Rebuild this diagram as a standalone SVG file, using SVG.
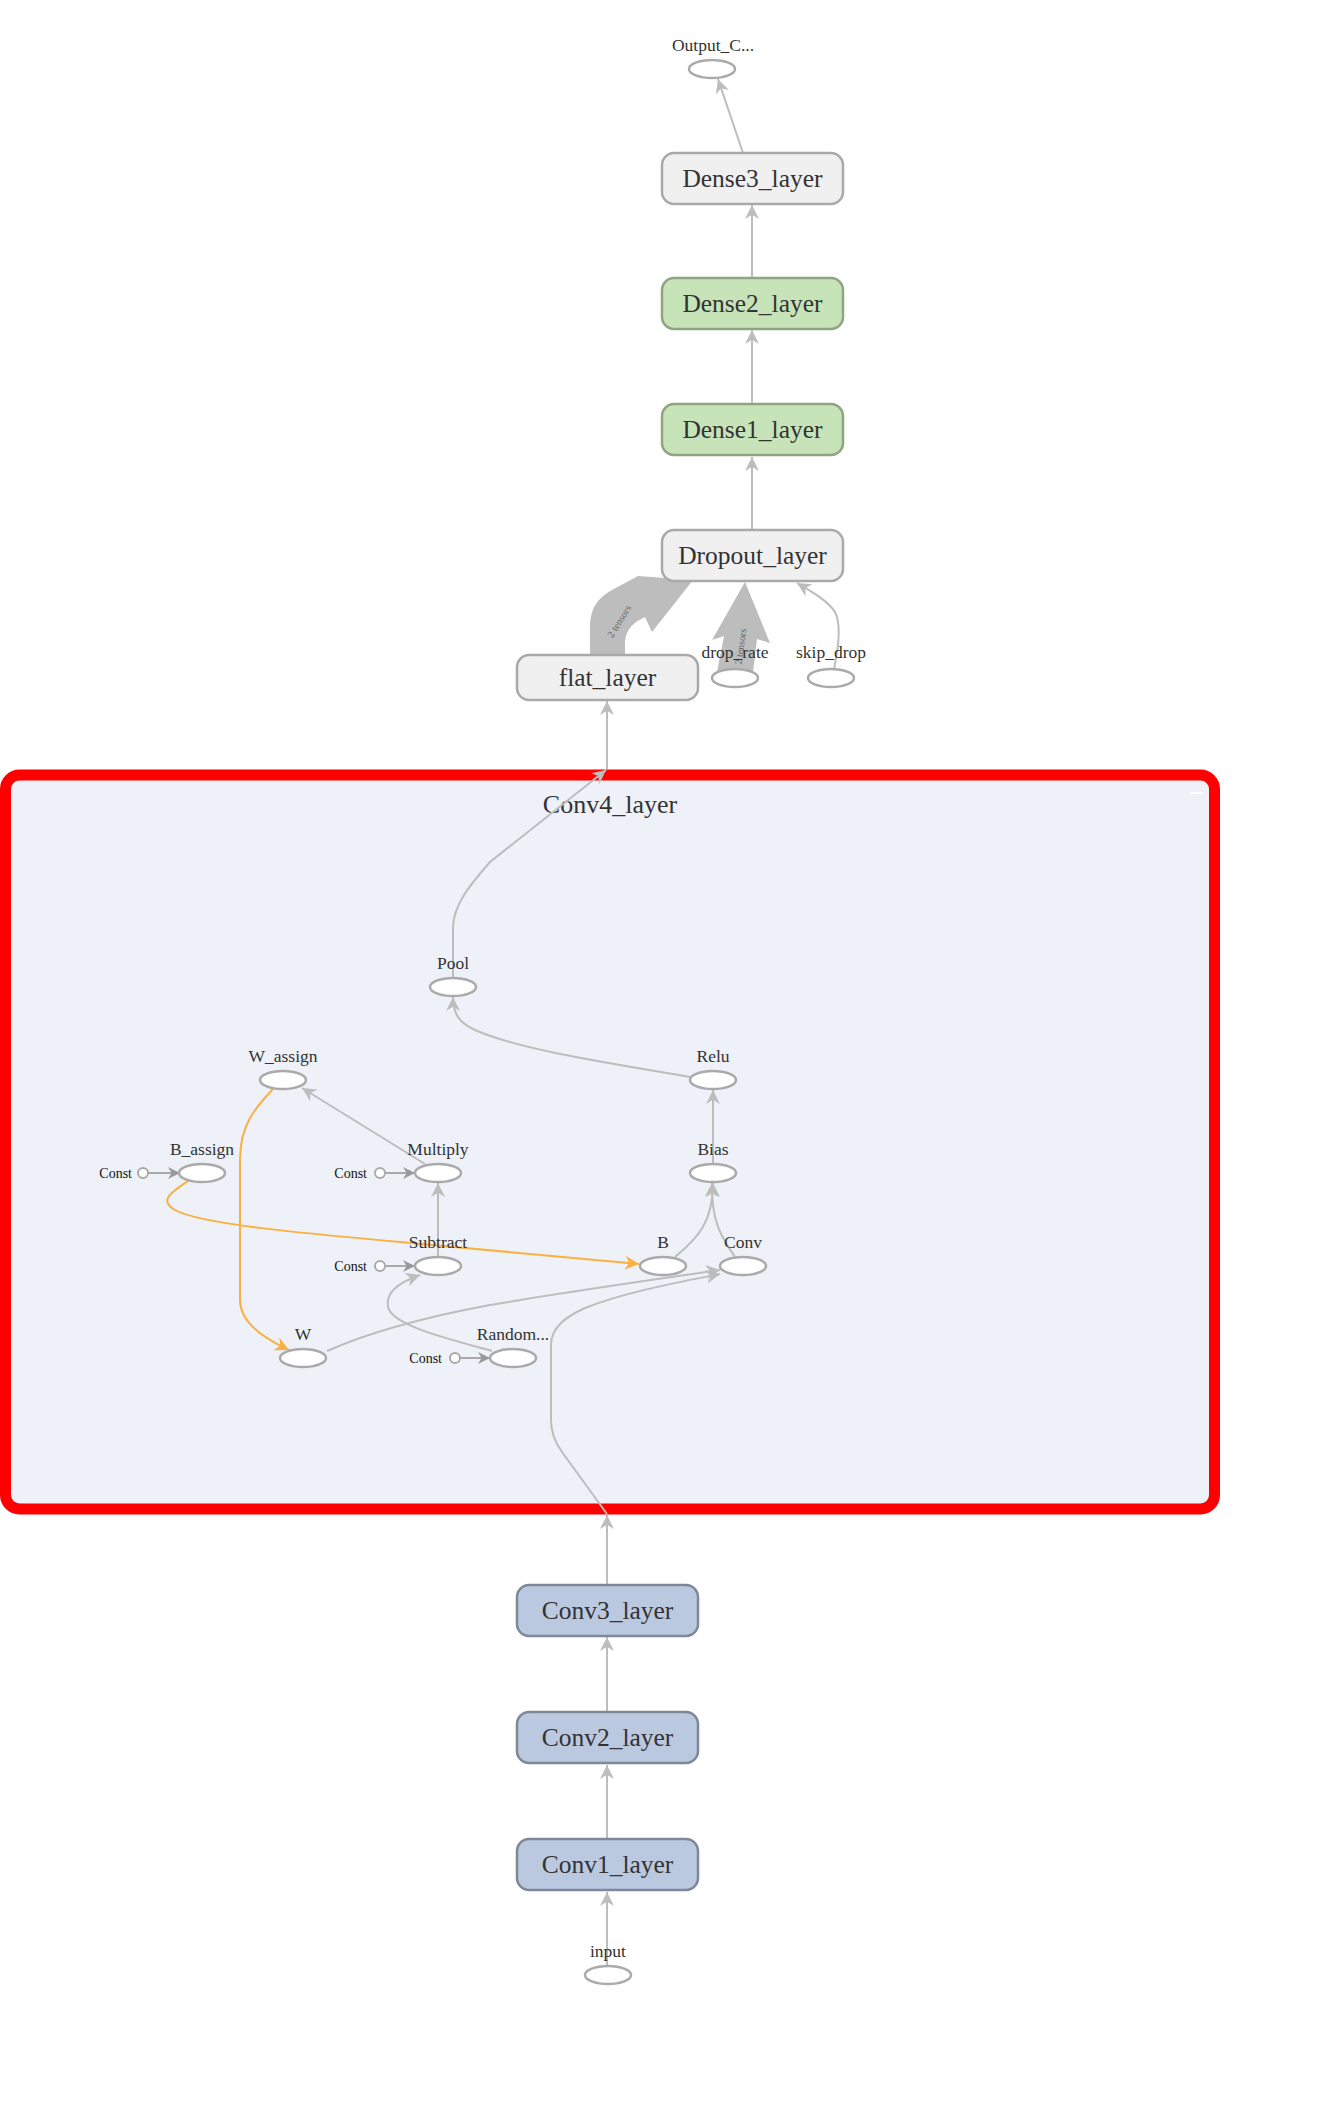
<svg xmlns="http://www.w3.org/2000/svg" width="1335" height="2103" viewBox="0 0 1335 2103">
<defs>
<style>
text{font-family:"Liberation Serif","Times New Roman",serif;fill:#333}
.big{font-size:25.5px;text-anchor:middle}
.lbl{font-size:17.5px;text-anchor:middle}
.cst{font-size:14px;text-anchor:end;fill:#111}
.ten{font-size:10px;text-anchor:middle;fill:#666}
.grey{fill:#f0f0f0;stroke:#a9a9a9;stroke-width:2.5}
.green{fill:#c6e4b8;stroke:#8ea483;stroke-width:2.5}
.blue{fill:#bac8e0;stroke:#7f8899;stroke-width:2.5}
.op{fill:#fff;stroke:#aaa;stroke-width:2.5}
.cc{fill:#fff;stroke:#aaa;stroke-width:2}
.e{fill:none;stroke:#bdbdbd;stroke-width:2;marker-end:url(#arr)}
.o{fill:none;stroke:#f8b142;stroke-width:2;marker-end:url(#arro)}
.ce{fill:none;stroke:#aaa;stroke-width:2;marker-end:url(#arrc)}
.thick{fill:#bdbdbd}
</style>
<marker id="arr" viewBox="0 0 10 10" refX="10" refY="5" markerWidth="14" markerHeight="14" markerUnits="userSpaceOnUse" orient="auto"><path d="M0,0 L10,5 L0,10 L3,5 Z" fill="#bdbdbd"/></marker>
<marker id="arro" viewBox="0 0 10 10" refX="10" refY="5" markerWidth="14" markerHeight="14" markerUnits="userSpaceOnUse" orient="auto"><path d="M0,0 L10,5 L0,10 L3,5 Z" fill="#f8b142"/></marker>
<marker id="arrc" viewBox="0 0 10 10" refX="10" refY="5" markerWidth="12" markerHeight="12" markerUnits="userSpaceOnUse" orient="auto"><path d="M0,0 L10,5 L0,10 L3,5 Z" fill="#999"/></marker>
</defs>
<rect width="1335" height="2103" fill="#fff"/>

<g id="Conv4_layer">
<rect x="5.5" y="775" width="1209" height="734" rx="14" fill="#eef1f7" stroke="#ff0000" stroke-width="11"/>
<rect x="1190" y="792" width="13" height="2" fill="#fff"/>
<text x="610" y="813" style="font-size:26px;text-anchor:middle">Conv4_layer</text>
</g>

<g id="connectors">
<path class="e" d="M743,153 L718,79"/>
<path class="e" d="M752,278 L752,205"/>
<path class="e" d="M752,404 L752,330"/>
<path class="e" d="M752,530 L752,457"/>
<path class="thick" d="M590,655 L590,628 C590,608 598,598 612,590 L638,576 L693,580 L652,632 L645,617 C635,622 625,628 625,645 L625,655 Z"/>
<path class="thick" d="M717,672 L724,636 L712,640 L745,582 L770,643 L757,639 L753,672 Z"/>
<text class="ten" transform="translate(622,623) rotate(-58)">2 tensors</text>
<text class="ten" transform="translate(744,647) rotate(-82)">2 tensors</text>
<path class="e" d="M834,669 C838,650 842,625 835,612 C827,600 812,592 797,583"/>
<path class="e" d="M607,769 L607,701"/>
<path class="e" d="M453,978 L453,928 C453,905 470,885 490,862 L606,770"/>
<path class="e" d="M690,1077 C610,1063 520,1050 475,1030 C460,1023 453,1015 453,997"/>
<path class="e" d="M713,1164 L713,1090"/>
<path class="e" d="M675,1257 C698,1238 713,1222 713,1183"/>
<path class="e" d="M735,1257 C722,1238 711,1222 712,1183"/>
<path class="e" d="M425,1164 L302,1088"/>
<path class="e" d="M438,1257 L438,1183"/>
<path class="o" d="M273,1089 C255,1108 240,1125 240,1160 L240,1300 C240,1322 262,1337 289,1350"/>
<path class="o" d="M188,1181 C172,1192 158,1200 175,1210 C200,1224 300,1233 400,1242 L639,1264"/>
<path class="e" d="M327,1351 C370,1332 420,1318 490,1305 C560,1293 650,1280 720,1270"/>
<path class="e" d="M492,1351 C445,1338 392,1325 388,1307 C385,1292 400,1282 420,1275"/>
<path class="e" d="M607,1514 L562,1452 C554,1441 551,1432 551,1420 L551,1345 C551,1328 565,1317 585,1308 C625,1292 680,1282 720,1274"/>
<path class="e" d="M607,1585 L607,1515"/>
<path class="e" d="M607,1711 L607,1637"/>
<path class="e" d="M607,1838 L607,1765"/>
<path class="e" d="M607,1966 L607,1892"/>
<path class="ce" d="M148,1173 L180,1173"/>
<path class="ce" d="M385,1173 L415,1173"/>
<path class="ce" d="M385,1266 L415,1266"/>
<path class="ce" d="M460,1358 L490,1358"/>
</g>

<g id="Output_C"><ellipse class="op" cx="712" cy="69" rx="23" ry="9"/><text class="lbl" x="713" y="51">Output_C...</text></g>
<g id="Dense3_layer"><rect class="grey" x="662" y="153" width="181" height="51" rx="12"/><text class="big" x="752.5" y="187">Dense3_layer</text></g>
<g id="Dense2_layer"><rect class="green" x="662" y="278" width="181" height="51" rx="12"/><text class="big" x="752.5" y="312">Dense2_layer</text></g>
<g id="Dense1_layer"><rect class="green" x="662" y="404" width="181" height="51" rx="12"/><text class="big" x="752.5" y="438">Dense1_layer</text></g>
<g id="Dropout_layer"><rect class="grey" x="662" y="530" width="181" height="51" rx="12"/><text class="big" x="752.5" y="564">Dropout_layer</text></g>
<g id="flat_layer"><rect class="grey" x="517" y="655" width="181" height="45" rx="12"/><text class="big" x="607.5" y="686">flat_layer</text></g>
<g id="drop_rate"><ellipse class="op" cx="735" cy="678" rx="23" ry="9"/><text class="lbl" x="735" y="658">drop_rate</text></g>
<g id="skip_drop"><ellipse class="op" cx="831" cy="678" rx="23" ry="9"/><text class="lbl" x="831" y="658">skip_drop</text></g>

<g id="Pool"><ellipse class="op" cx="453" cy="987" rx="23" ry="9"/><text class="lbl" x="453" y="969">Pool</text></g>
<g id="Relu"><ellipse class="op" cx="713" cy="1080" rx="23" ry="9"/><text class="lbl" x="713" y="1062">Relu</text></g>
<g id="W_assign"><ellipse class="op" cx="283" cy="1080" rx="23" ry="9"/><text class="lbl" x="283" y="1062">W_assign</text></g>
<g id="B_assign"><ellipse class="op" cx="202" cy="1173" rx="23" ry="9"/><text class="lbl" x="202" y="1155">B_assign</text></g>
<g id="Const_B"><circle class="cc" cx="143" cy="1173" r="5"/><text class="cst" x="132" y="1178">Const</text></g>
<g id="Multiply"><ellipse class="op" cx="438" cy="1173" rx="23" ry="9"/><text class="lbl" x="438" y="1155">Multiply</text></g>
<g id="Const_M"><circle class="cc" cx="380" cy="1173" r="5"/><text class="cst" x="367" y="1178">Const</text></g>
<g id="Bias"><ellipse class="op" cx="713" cy="1173" rx="23" ry="9"/><text class="lbl" x="713" y="1155">Bias</text></g>
<g id="Subtract"><ellipse class="op" cx="438" cy="1266" rx="23" ry="9"/><text class="lbl" x="438" y="1248">Subtract</text></g>
<g id="Const_S"><circle class="cc" cx="380" cy="1266" r="5"/><text class="cst" x="367" y="1271">Const</text></g>
<g id="B"><ellipse class="op" cx="663" cy="1266" rx="23" ry="9"/><text class="lbl" x="663" y="1248">B</text></g>
<g id="Conv"><ellipse class="op" cx="743" cy="1266" rx="23" ry="9"/><text class="lbl" x="743" y="1248">Conv</text></g>
<g id="W"><ellipse class="op" cx="303" cy="1358" rx="23" ry="9"/><text class="lbl" x="303" y="1340">W</text></g>
<g id="Random"><ellipse class="op" cx="513" cy="1358" rx="23" ry="9"/><text class="lbl" x="513" y="1340">Random...</text></g>
<g id="Const_R"><circle class="cc" cx="455" cy="1358" r="5"/><text class="cst" x="442" y="1363">Const</text></g>

<g id="Conv3_layer"><rect class="blue" x="517" y="1585" width="181" height="51" rx="12"/><text class="big" x="607.5" y="1619">Conv3_layer</text></g>
<g id="Conv2_layer"><rect class="blue" x="517" y="1712" width="181" height="51" rx="12"/><text class="big" x="607.5" y="1746">Conv2_layer</text></g>
<g id="Conv1_layer"><rect class="blue" x="517" y="1839" width="181" height="51" rx="12"/><text class="big" x="607.5" y="1873">Conv1_layer</text></g>
<g id="input"><ellipse class="op" cx="608" cy="1975" rx="23" ry="9"/><text class="lbl" x="608" y="1957">input</text></g>
</svg>
